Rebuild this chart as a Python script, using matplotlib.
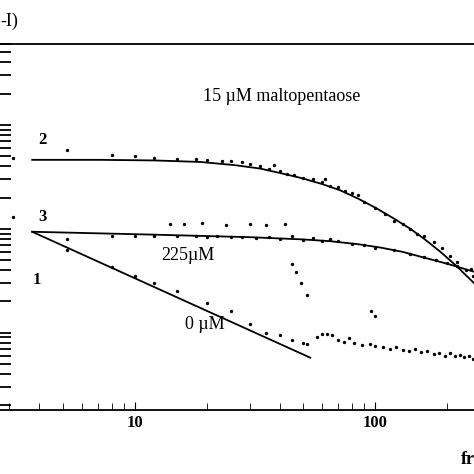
import numpy as np
import matplotlib.pyplot as plt

plt.rcParams['font.family'] = ['Liberation Serif', 'DejaVu Serif']

# fitted curves (frequency, value)
fit2_f = [3.73, 7.14, 12, 18.7, 26, 33.2, 40, 48.7, 60, 71.4, 85, 100, 120, 140, 160, 187, 220, 258]
fit2_y = [46.1, 46.1, 45.5, 44, 41, 38, 34.5, 31, 27, 23.5, 19.5, 16, 12.5, 10, 8, 6, 4.3, 3.0]
fit3_f = [3.73, 11.5, 30.1, 50, 64.9, 85, 105, 130, 154, 200, 258]
fit3_y = [9.36, 8.8, 8.3, 7.9, 7.6, 7.1, 6.6, 6.0, 5.4, 4.6, 3.86]
fit1_f = [3.73, 53.6]
fit1_y = [9.36, 0.575]

# measured points
d2_f = [3.1, 5.2, 8, 10, 12, 15, 18, 20, 23, 25, 28, 30, 33, 36, 40, 43, 46, 50, 55, 60,
        65, 70, 75, 80, 90, 100, 110, 120, 130, 140, 150, 160, 175, 190, 205, 220, 240, 255,
        45, 47, 49, 52, 38, 62, 85]
d2_y = [48, 57, 51, 50, 48, 47, 47, 46, 45, 45, 44, 42, 40, 38, 36, 34, 33, 31, 30, 28,
        26, 25, 23, 22, 18, 16, 14, 12, 11, 10, 9, 8.5, 7.5, 6.5, 5.5, 4.8, 4, 3.5,
        4.6, 3.8, 3.0, 2.3, 41, 30, 21]
d3_f = [3.1, 5.2, 8, 10, 12, 15, 18, 20, 22, 25, 28, 32, 36, 40, 45, 50, 55, 60, 65, 70,
        80, 90, 100, 120, 140, 160, 180, 200, 220, 250, 14, 16, 19, 24, 30, 35, 42]
d3_y = [13, 8.0, 8.5, 8.6, 8.6, 8.5, 8.6, 8.4, 8.5, 8.3, 8.4, 8.2, 8.3, 8.0, 8.6, 7.8, 8.2, 7.6, 7.9, 7.7,
        7.2, 7.0, 6.6, 6.3, 5.7, 5.3, 5.0, 4.7, 4.4, 4.1, 11.2, 11, 11.3, 10.9, 11, 10.8, 11.1]
d1_f = [5.2, 8, 10, 12, 15, 20, 25, 30, 35, 40, 45, 50, 52,
        57, 60, 63, 66, 70, 74, 78, 82, 88, 95, 100, 108, 115, 122, 130, 138, 146,
        155, 165, 175, 185, 195, 205, 215, 225, 235, 245, 255, 96, 100]
d1_y = [6.3, 4.3, 3.5, 3.0, 2.5, 1.95, 1.6, 1.2, 1.0, 0.95, 0.85, 0.8, 0.78,
        0.9, 0.97, 0.98, 0.95, 0.85, 0.82, 0.88, 0.8, 0.76, 0.78, 0.74, 0.72, 0.7, 0.73, 0.68, 0.66, 0.7,
        0.65, 0.67, 0.62, 0.64, 0.6, 0.63, 0.59, 0.61, 0.58, 0.6, 0.56, 1.6, 1.45]

fig = plt.figure(figsize=(4.74, 4.74), dpi=100)
ax = fig.add_axes([0, 0.135, 1, 0.772])
ax.set_xscale('log')
ax.set_yscale('log')
ax.set_xlim(2.74, 258)
ax.set_ylim(0.18, 600)

ax.plot(fit2_f, fit2_y, color='black', lw=1.3)
ax.plot(fit3_f, fit3_y, color='black', lw=1.3)
ax.plot(fit1_f, fit1_y, color='black', lw=1.3)
for f, y in [(d2_f, d2_y), (d3_f, d3_y), (d1_f, d1_y)]:
    ax.scatter(f, y, s=2, color='black', zorder=3)

ax.text(4.1, 72, '2', fontsize=12, fontweight='bold', ha='center', va='center')
ax.text(4.1, 13, '3', fontsize=12, fontweight='bold', ha='center', va='center')
ax.text(3.9, 3.2, '1', fontsize=12, fontweight='bold', ha='center', va='center')
ax.text(41, 186, '15 µM maltopentaose', fontsize=13, ha='center', va='center')
ax.text(16.6, 5.5, '225µM', fontsize=13, ha='center', va='center')
ax.text(19.5, 1.19, '0 µM', fontsize=13, ha='center', va='center')

for s in ['left', 'right']:
    ax.spines[s].set_visible(False)
ax.spines['top'].set_linewidth(1.3)
ax.spines['bottom'].set_linewidth(1.3)
ax.tick_params(axis='x', which='both', direction='in', top=False, labelsize=12)
ax.tick_params(axis='x', which='major', length=6)
ax.tick_params(axis='x', which='minor', length=5)
ax.tick_params(axis='y', which='both', direction='in', labelleft=False, length=8, width=1.3, pad=0)
ax.set_xticks([10, 100])
ax.set_xticklabels(['10', '100'], fontweight='bold')

fig.text(0.0, 0.955, '-I)', fontsize=13, va='center')
fig.text(0.972, 0.03, 'fr', fontsize=13, fontweight='bold', va='center')

fig.savefig('out.png')
